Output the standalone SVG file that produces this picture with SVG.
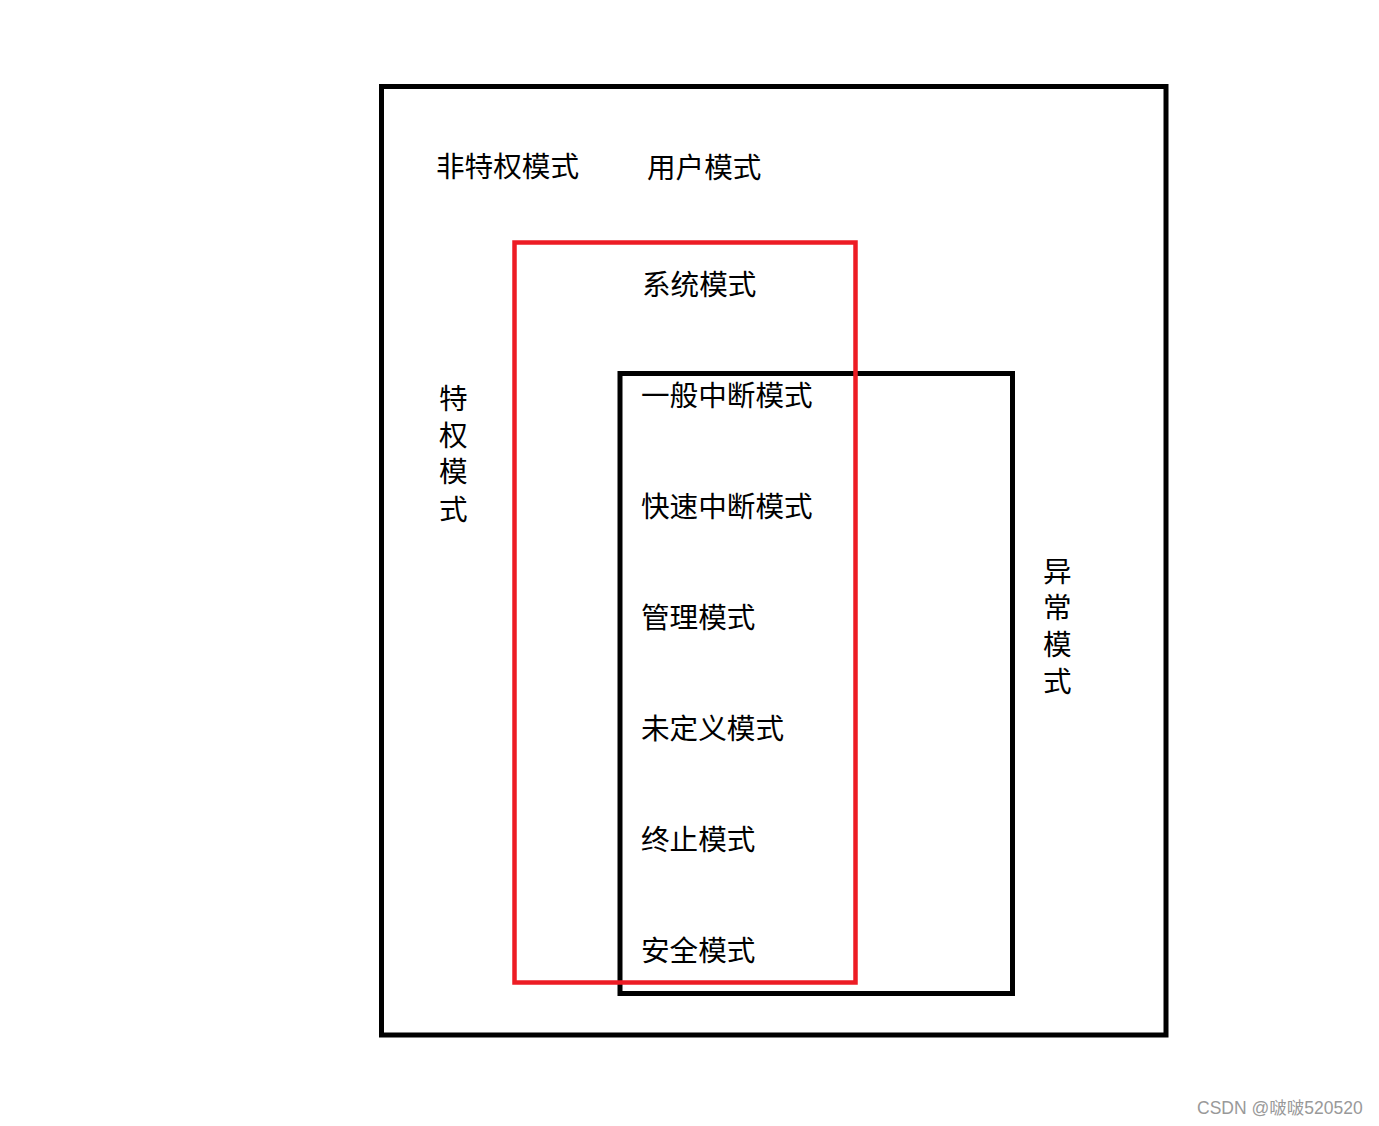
<svg xmlns="http://www.w3.org/2000/svg" width="1379" height="1126" viewBox="0 0 1379 1126">
<style>
.box{fill:none;stroke:#000;stroke-width:5}
.red{fill:none;stroke:#ED1C24;stroke-width:4.5}
.t{font-family:"Noto Sans CJK SC","Noto Sans",sans-serif;font-size:28.6px;fill:#000}
.wm{font-family:"Liberation Sans","Noto Sans CJK SC",sans-serif;font-size:17.5px;fill:#999}
</style>
<rect width="1379" height="1126" fill="#fff"/>
<g id="outer">
<rect class="box" x="381.5" y="86.5" width="784.5" height="948.5"/>
<text class="t" x="436" y="177">非特权模式</text>
<text class="t" x="647" y="178">用户模式</text>
<text class="t" x="439" y="409">特</text>
<text class="t" x="439" y="446">权</text>
<text class="t" x="439" y="482">模</text>
<text class="t" x="439" y="520">式</text>
</g>
<g id="exception">
<rect class="box" x="620" y="373.5" width="392.5" height="620"/>
<text class="t" x="1043" y="582">异</text>
<text class="t" x="1043" y="618">常</text>
<text class="t" x="1043" y="655">模</text>
<text class="t" x="1043" y="692">式</text>
</g>
<g id="privileged">
<rect class="red" x="514.5" y="242.5" width="341" height="740"/>
</g>
<g id="modes">
<text class="t" x="642" y="295">系统模式</text>
<text class="t" x="641" y="406">一般中断模式</text>
<text class="t" x="641" y="517">快速中断模式</text>
<text class="t" x="641" y="628">管理模式</text>
<text class="t" x="641" y="739">未定义模式</text>
<text class="t" x="641" y="850">终止模式</text>
<text class="t" x="641" y="961">安全模式</text>
</g>
<g id="connectors"></g>
<text class="wm" x="1197" y="1114">CSDN @啵啵520520</text>
</svg>
